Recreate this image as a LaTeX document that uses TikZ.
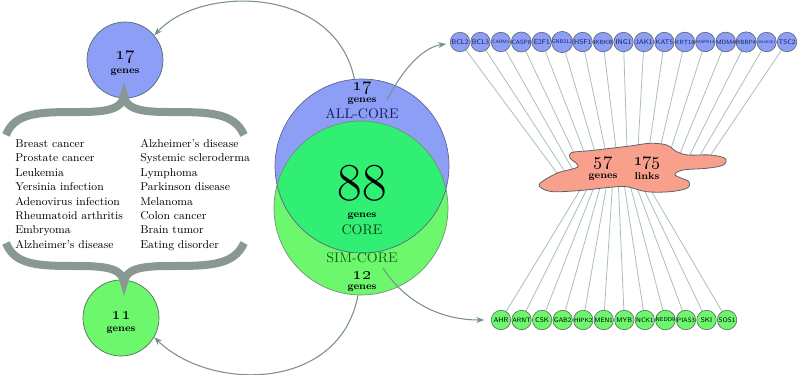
\documentclass[tikz,border=0pt]{standalone}
\usepackage{fix-cm}
\usetikzlibrary{arrows.meta,calc,backgrounds}
\definecolor{bluec}{HTML}{8C9EF5}
\definecolor{greenc}{HTML}{6CF76C}
\definecolor{corec}{HTML}{30EF72}
\definecolor{blobc}{HTML}{F9A08D}
\definecolor{linkc}{HTML}{A9BFBB}
\definecolor{bracec}{HTML}{8A9894}
\definecolor{arrowc}{HTML}{7A918F}
\definecolor{bordc}{HTML}{5A6468}
\definecolor{navyt}{HTML}{1C1C5C}
\definecolor{greent}{HTML}{163E1E}
\tikzset{
  genenode/.style={circle, draw=bordc, line width=0.45pt, minimum size=14.6pt, inner sep=0pt},
  gsz/.style={font=\sffamily\fontsize{#1}{#1}\selectfont},
  bluegene/.style={genenode, fill=bluec, text=navyt},
  greengene/.style={genenode, fill=greenc, text=black},
  link/.style={draw=linkc, line width=0.6pt},
  curvearrow/.style={draw=arrowc, line width=0.8pt, -{Stealth[length=6pt,width=4.5pt]}},
  bracepath/.style={draw=bracec, line width=6pt},
  disease/.style={anchor=base west, inner sep=0pt, font=\fontsize{8.5}{10}\selectfont},
  num/.style={inner sep=0pt, font=\bfseries\fontsize{14}{14}\selectfont},
  genes/.style={inner sep=0pt, font=\bfseries\fontsize{7.5}{7.5}\selectfont},
  label/.style={inner sep=0pt, font=\fontsize{10.5}{10.5}\selectfont},
  smallcirc/.style={circle, draw=bordc, line width=0.5pt, minimum size=57pt, inner sep=0pt},
}
\begin{document}
\begin{tikzpicture}[x=0.75pt,y=-0.75pt]
\useasboundingbox (0,0) rectangle (800,375);

% ---------- left: small circles and braces ----------
\node[smallcirc, fill=bluec] (g17) at (125,60) {};
\node[num] (g17n) at (125,57) {\oldstylenums{17}};
\node[genes] (g17g) at (125,72) {genes};

\node[smallcirc, fill=greenc] (g11) at (121,318) {};
\node[num] (g11n) at (121,315) {\oldstylenums{11}};
\node[genes] (g11g) at (121,330) {genes};

\draw[bracepath] (6,135) .. controls (15,112) and (40,112) .. (80,112)
  .. controls (110,112) and (122,108) .. (124,96)
  .. controls (126,108) and (138,112) .. (168,112)
  .. controls (208,112) and (234,112) .. (244,135);
\draw[bracepath] (6,243) .. controls (15,266) and (40,266) .. (80,266)
  .. controls (110,266) and (122,270) .. (124,282)
  .. controls (126,270) and (138,266) .. (168,266)
  .. controls (208,266) and (234,266) .. (244,243);

\foreach \t [count=\i from 0] in {Breast cancer,Prostate cancer,Leukemia,Yersinia infection,Adenovirus infection,Rheumatoid arthritis,Embryoma,Alzheimer's disease}
  \node[disease] (dl\i) at (15,{147.5+14.4*\i}) {\t};
\foreach \t [count=\i from 0] in {Alzheimer's disease,Systemic scleroderma,Lymphoma,Parkinson disease,Melanoma,Colon cancer,Brain tumor,Eating disorder}
  \node[disease] (dr\i) at (140,{147.5+14.4*\i}) {\t};

% ---------- Venn ----------
\node[circle, minimum size=130.5pt, inner sep=0pt, fill=bluec] (allcore) at (362,166) {};
\node[circle, minimum size=130.5pt, inner sep=0pt, fill=greenc] (simcore) at (361,208) {};
\begin{scope}
  \clip (362,166) circle (65.25pt);
  \fill[corec] (361,208) circle (65.25pt);
\end{scope}
\draw[draw=navyt!70, line width=0.5pt] (362,166) circle (65.25pt);
\draw[draw=greent!60, line width=0.5pt] (361,208) circle (65.25pt);

\node[num] (ac17) at (362,88) {\oldstylenums{17}};
\node[genes] (acg) at (362,101) {genes};
\node[label, text=navyt] (acl) at (362,114) {ALL-CORE};
\node[inner sep=0pt, font=\fontsize{40}{40}\selectfont] (c88) at (362,183) {88};
\node[genes] (cg) at (362,216) {genes};
\node[label, text=greent] (cl) at (362,230) {CORE};
\node[label, text=greent!80!green] (scl) at (362,258) {SIM-CORE};
\node[num] (sc12) at (362,275) {\oldstylenums{12}};
\node[genes] (scg) at (362,288) {genes};

% ---------- right: gene rows ----------
\coordinate (F) at (631,273);
\coordinate (G) at (616,131);
\foreach \n/\s [count=\i from 0] in {BCL2/5.2,BCL3/5.2,CARM1/3.6,CASP8/4.6,E2F1/5.2,GNB2L1/4.1,HSF1/5.2,IKBKB/4.5,ING1/5.2,JAK1/5.2,KAT5/5.0,KRT18/4.5,MAPK14/3.3,MDM4/4.6,RBBP4/4.5,SMARCE1/2.7,TSC2/5.0}
  \node[bluegene, gsz=\s] (t\i) at ({460+20.44*\i},42) {\n};
\foreach \n/\s [count=\j from 0] in {AHR/5.2,ARNT/4.8,CSK/5.2,GAB2/5.0,HIPK2/4.6,MEN1/4.8,MYB/5.0,NCK1/4.8,NEDD9/4.2,PIAS3/4.8,SKI/5.2,SOS1/5.0}
  \node[greengene, gsz=\s] (b\j) at ({501+20.55*\j},320) {\n};

\begin{pgfonlayer}{background}
  \foreach \i in {0,...,16}
    \draw[link] (t\i) -- ($(t\i)!{(134-\i)/231}!(F)$);
  \foreach \j in {0,...,11}
    \draw[link] (b\j) -- ($(b\j)!0.73!(G)$);
\end{pgfonlayer}

\fill[blobc, draw=bordc, line width=0.6pt] plot[smooth cycle, tension=0.55] coordinates {
  (540,183.3) (556.7,173.3) (578,166.7) (570,158) (572,152.5) (590,150.7) (613,148)
  (630,146) (650,143.3) (666.7,145) (676.7,151.7) (688,155) (710,155) (725,158.3)
  (723.3,165) (706.7,168.3) (683,170) (675,175) (689,181.7) (686.7,188.3) (670,191.7)
  (646.7,191.7) (626.7,186.7) (610,187.3) (580,190.5) (553.3,191.7) (541.7,188.3)};
\node[num] (b57) at (603,163) {\oldstylenums{57}};
\node[genes] (b57g) at (603,177) {genes};
\node[num] (b175) at (647,163) {\oldstylenums{175}};
\node[genes] (b175l) at (647,176) {links};

% ---------- curved arrows ----------
\coordinate (a2s) at (387,100);
\coordinate (a3s) at (383,268);
\draw[curvearrow] (allcore.95) .. controls (335,-15) and (200,-15) .. (g17.40);
\draw[curvearrow, shorten >=3pt] (a2s) .. controls (405,65) and (425,47) .. (t0);
\draw[curvearrow, shorten >=5pt] (a3s) .. controls (405,302) and (440,320) .. (b0);
\draw[curvearrow] (simcore.268) .. controls (340,392) and (210,392) .. (g11.330);
\end{tikzpicture}
\end{document}
